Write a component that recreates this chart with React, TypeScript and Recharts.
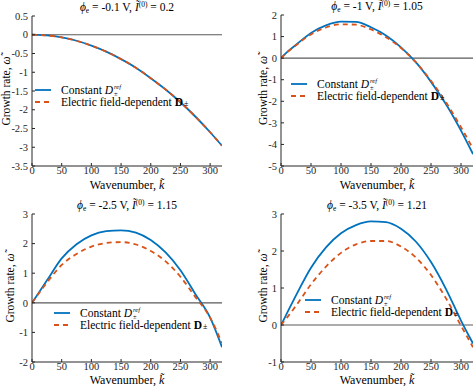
import React from 'react';
import { LineChart, Line, XAxis, YAxis, ReferenceLine, Legend } from 'recharts';

const K = [0, 10, 25, 50, 75, 100, 125, 150, 175, 200, 225, 250, 275, 300, 320];
const xTicks = [0, 50, 100, 150, 200, 250, 300];

const p1Const = [0, -0.003, -0.018, -0.072, -0.16, -0.29, -0.45, -0.65, -0.88, -1.16, -1.46, -1.8, -2.18, -2.6, -2.96];
const p1Field = [0, -0.003, -0.018, -0.072, -0.16, -0.29, -0.45, -0.65, -0.88, -1.16, -1.46, -1.8, -2.18, -2.6, -2.96];
const p2Const = [0, 0.28, 0.62, 1.17, 1.52, 1.69, 1.68, 1.43, 1.05, 0.5, -0.2, -1.1, -2.14, -3.36, -4.45];
const p2Field = [0, 0.27, 0.6, 1.1, 1.42, 1.57, 1.55, 1.33, 0.97, 0.47, -0.2, -1.05, -2.05, -3.2, -4.2];
const p3Const = [0, 0.3, 0.75, 1.5, 1.98, 2.28, 2.42, 2.45, 2.37, 2.12, 1.7, 1.1, 0.3, -0.5, -1.5];
const p3Field = [0, 0.28, 0.68, 1.28, 1.65, 1.9, 2.02, 2.05, 1.97, 1.75, 1.4, 0.88, 0.2, -0.5, -1.36];
const p4Const = [0, 0.32, 0.8, 1.55, 2.1, 2.48, 2.7, 2.8, 2.78, 2.6, 2.25, 1.7, 0.97, 0.12, -0.5];
const p4Field = [0, 0.2, 0.52, 1.1, 1.58, 1.95, 2.18, 2.27, 2.27, 2.12, 1.82, 1.35, 0.72, -0.02, -0.6];

const y1Ticks = [-3.5, -3, -2.5, -2, -1.5, -1, -0.5, 0, 0.5];
const y2Ticks = [-5, -4, -3, -2, -1, 0, 1, 2];
const y3Ticks = [-2, -1, 0, 1, 2, 3];
const y4Ticks = [-1, 0, 1, 2, 3];

const titlePhi = ['-0.1', '-1', '-2.5', '-3.5'];
const titleI = ['0.2', '1.05', '1.15', '1.21'];

const BLUE = '#0072BD';
const RED = '#D95319';
const AX = '#262626';
const FONT = 'Liberation Serif';

const build = (a: number[], b: number[]) => K.map((k, i) => ({ k, c: a[i], f: b[i] }));

type PanelProps = {
  x: number; y: number;
  data: { k: number; c: number; f: number }[];
  yTicks: number[];
  plotLeft: number; plotRight: number; plotTop: number; plotBottom: number;
  phi: string; iv: string;
  legendLeft: number; legendTop: number;
  yLabelX: number;
};

const LegendBox = () => (
  <div style={{ fontFamily: FONT, fontSize: 11.5, color: '#000', lineHeight: '12px', whiteSpace: 'nowrap' }}>
    <div style={{ display: 'flex', alignItems: 'center', height: 12 }}>
      <svg width={22} height={8} style={{ marginRight: 6 }}>
        <line x1={2} y1={4} x2={18} y2={4} stroke={BLUE} strokeWidth={1.8} />
      </svg>
      <span>Constant <i>D</i></span>
      <span style={{ display: 'inline-flex', flexDirection: 'column', fontSize: 6.5, lineHeight: '7px', marginLeft: 1 }}>
        <i style={{ height: 7 }}>ref</i><span style={{ height: 7 }}>±</span>
      </span>
    </div>
    <div style={{ display: 'flex', alignItems: 'center', height: 12 }}>
      <svg width={22} height={8} style={{ marginRight: 6 }}>
        <line x1={2} y1={4} x2={18} y2={4} stroke={RED} strokeWidth={1.8} strokeDasharray="5 4" />
      </svg>
      <span>Electric field-dependent <b>D</b></span>
      <span style={{ fontSize: 8, position: 'relative', top: 2, marginLeft: 1 }}>±</span>
    </div>
  </div>
);

const Panel = (p: PanelProps) => {
  const W = 237, H = 195;
  const dom = [p.yTicks[0], p.yTicks[p.yTicks.length - 1]];
  const cx = (p.plotLeft + p.plotRight) / 2;
  const cy = (p.plotTop + p.plotBottom) / 2;
  return (
    <div style={{ position: 'absolute', left: p.x, top: p.y, width: W, height: H }}>
      <LineChart width={W} height={H} data={p.data}
        margin={{ top: p.plotTop, right: W - p.plotRight, left: 0, bottom: 0 }}>
        <XAxis dataKey="k" type="number" domain={[0, 320]} ticks={xTicks} allowDataOverflow
          height={H - p.plotBottom} stroke={AX} tickSize={-3} tickMargin={4}
          tick={{ fill: AX, fontSize: 10.5, fontFamily: FONT }} />
        <XAxis xAxisId="top" orientation="top" type="number" domain={[0, 320]} ticks={xTicks}
          height={0} stroke={AX} tickSize={-3} tick={false} />
        <YAxis type="number" domain={dom} ticks={p.yTicks} allowDataOverflow
          width={p.plotLeft} stroke={AX} tickSize={-3} tickMargin={7} interval={0}
          tick={{ fill: AX, fontSize: 10.5, fontFamily: FONT }} />
        <YAxis yAxisId="right" orientation="right" type="number" domain={dom} ticks={p.yTicks}
          width={0} stroke={AX} tickSize={-3} tick={false} />
        <ReferenceLine y={0} stroke="#5a5a5a" strokeWidth={1.2} />
        <Line dataKey="c" type="monotone" stroke={BLUE} strokeWidth={1.8} dot={false} isAnimationActive={false} />
        <Line dataKey="f" type="monotone" stroke={RED} strokeWidth={1.8} strokeDasharray="5 4" dot={false} isAnimationActive={false} />
        <Legend layout="horizontal" verticalAlign="middle" align="center"
          wrapperStyle={{ left: p.legendLeft, top: p.legendTop, width: 'auto' }}
          content={() => <LegendBox />} />
      </LineChart>
      <svg width={W} height={H} style={{ position: 'absolute', left: 0, top: 0, pointerEvents: 'none' }}
        fontFamily={FONT} fill="#000">
        <text x={cx} y={p.plotTop - 5} textAnchor="middle" fontSize={11.5}>
          <tspan fontStyle="italic">ϕ</tspan>
          <tspan fontSize={7.5} dy={2}>e</tspan>
          <tspan dy={-2}>{` = ${p.phi} V, `}</tspan>
          <tspan fontStyle="italic">Ĩ</tspan>
          <tspan fontSize={7.5} dy={-4}>(0)</tspan>
          <tspan dy={4}>{` = ${p.iv}`}</tspan>
        </text>
        <text x={cx} y={H - 6} textAnchor="middle" fontSize={12}>
          Wavenumber, <tspan fontStyle="italic">k̃</tspan>
        </text>
        <text x={p.yLabelX} y={cy} textAnchor="middle" fontSize={11.5}
          transform={`rotate(-90 ${p.yLabelX} ${cy})`}>
          Growth rate, <tspan fontStyle="italic">ω̃</tspan>
        </text>
      </svg>
    </div>
  );
};

export default function App() {
  return (
    <div style={{ position: 'absolute', left: 0, top: 0, width: 474, height: 390, background: '#fff' }}>
      <Panel x={0} y={0} data={build(p1Const, p1Field)} yTicks={y1Ticks}
        plotLeft={32} plotRight={222} plotTop={16} plotBottom={166}
        phi={titlePhi[0]} iv={titleI[0]} legendLeft={33} legendTop={84} yLabelX={10} />
      <Panel x={237} y={0} data={build(p2Const, p2Field)} yTicks={y2Ticks}
        plotLeft={44} plotRight={236} plotTop={15} plotBottom={166}
        phi={titlePhi[1]} iv={titleI[1]} legendLeft={52} legendTop={78} yLabelX={30} />
      <Panel x={0} y={195} data={build(p3Const, p3Field)} yTicks={y3Ticks}
        plotLeft={32} plotRight={222} plotTop={19} plotBottom={167}
        phi={titlePhi[2]} iv={titleI[2]} legendLeft={52} legendTop={112} yLabelX={14} />
      <Panel x={237} y={195} data={build(p4Const, p4Field)} yTicks={y4Ticks}
        plotLeft={44} plotRight={236} plotTop={19} plotBottom={167}
        phi={titlePhi[3]} iv={titleI[3]} legendLeft={66} legendTop={99} yLabelX={30} />
    </div>
  );
}
